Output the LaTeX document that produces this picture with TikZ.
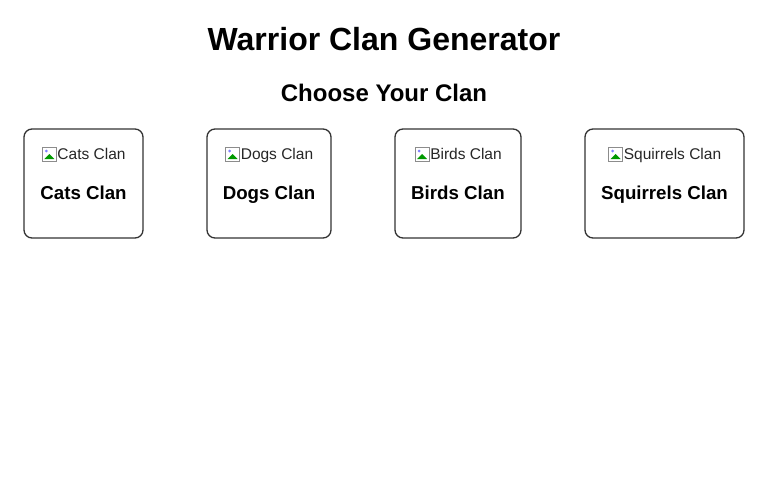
\documentclass[tikz,border=0pt]{standalone}
\usepackage{fontspec}
\setmainfont{Liberation Sans}
\begin{document}
\begin{tikzpicture}[x=1pt,y=-1pt,
  card/.style={draw=black!80,line width=1.3pt,rounded corners=8pt},
  alt/.style={font=\fontsize{15.5}{19}\selectfont,inner sep=0pt,text=black!85,anchor=base},
  ctitle/.style={font=\fontsize{18.7}{22}\selectfont\bfseries,inner sep=0pt,anchor=base},
  icon/.style={draw=black!45,line width=0.5pt,fill=white}]
\useasboundingbox (0,0) rectangle (768,480);
\node[font=\fontsize{32}{38}\selectfont\bfseries,inner sep=0pt] (title) at (384,39) {Warrior Clan Generator};
\node[font=\fontsize{24}{29}\selectfont\bfseries,inner sep=0pt] (sub) at (384,93) {Choose Your Clan};
\foreach \n/\xa/\xb/\lab in {c/24/143/Cats Clan,d/207/331/Dogs Clan,b/395/521/Birds Clan,s/585/744/Squirrels Clan}{
  \draw[card] (\xa,129) rectangle (\xb,238);
  \node[ctitle] (t\n) at ({(\xa+\xb)/2},199) {\lab};
  \node[alt] (a\n) at ({(\xa+\xb)/2},159) {\hspace{16pt}\lab};
}
\foreach \n in {c,d,b,s}{
  \draw[icon] ([xshift=1pt,yshift=-2pt]a\n.base west) rectangle ([xshift=15pt,yshift=12pt]a\n.base west);
  \fill[green!60!black] ([xshift=3pt,yshift=0pt]a\n.base west) -- ([xshift=8pt,yshift=5pt]a\n.base west) -- ([xshift=13pt,yshift=0pt]a\n.base west) -- cycle;
  \fill[blue!50] ([xshift=5pt,yshift=8pt]a\n.base west) circle (1.5pt);
}
\end{tikzpicture}
\end{document}
